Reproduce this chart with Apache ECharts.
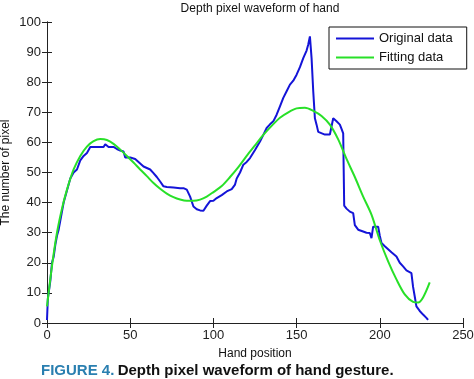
<!DOCTYPE html>
<html>
<head>
<meta charset="utf-8">
<script src="https://cdn.jsdelivr.net/npm/echarts@6/dist/echarts.min.js"></script>
<style>html,body{margin:0;padding:0;background:#fff;}#c{width:474px;height:379px;}</style>
</head>
<body>
<div id="c"></div>
<script>
const titleText = 'Depth pixel waveform of hand';
const xAxisName = 'Hand position';
const yAxisName = 'The number of pixel';
const seriesNames = ['Original data', 'Fitting data'];

const origX = [0,0.5,1,2,3,4,5,6,7,8,9,10,11,12,13,14,16,18,20,22,24,26,28,30,32,34,35,36,37,40,42,44,46,47,48,50,51,53,56,58,60,62,64,66,68,70,72,76,80,82,84,86,88,90,92,94,96,98,100,102,105,108,111,113,114,116,118,120,122,125,128,130,132,134,136,138,140,142,144,146,148,150,152,154,156,157,158,159,160,161,162,163,164,167,170,171,172,174,176,177,178,178.3,178.6,180,182,184,185,187,190,192,194,195,196,197,199,200,201,203,205,207,210,212,214,216,219,220,221,222,224,226,228,229];
const origY = [1,8,10,14,20,22,26,29,31,34,37,40,42,44,46,48,50,51,54,55.5,56.5,58.5,58.5,58.5,58.5,58.5,59.4,59.2,58.5,58.5,57.8,57.3,57,55,54.5,55,55.4,54.5,53,52,51.5,51,49.8,48.5,47,45.4,45.2,45,44.8,44.8,44.3,42,38.7,37.8,37.4,37.3,39,40.5,40.6,41.5,42.5,43.7,44.5,46,48,50,52.6,53.5,54.8,57.5,60.3,62.5,64.8,66,67,69.2,72,74.8,77,79.2,80.5,82.5,85,88,90.5,92.5,95.2,88,77,68,65.9,63.5,63,62.6,62.6,62.6,68,67,65.9,64.5,63,51,39,38,37,36.5,32.5,31,30.4,30,29.9,28.2,32,32.5,32,29,26.6,25.5,24.5,23.5,22.1,20,18.8,17.5,16.6,12,8.8,5.5,4,2.8,1.7,1];

const fitX = [0,3,6,9,12,16,20,24,28,32,36,40,44,48,52,56,60,64,68,72,76,80,84,88,92,96,100,105,110,115,120,125,130,135,140,145,150,155,160,165,170,175,180,185,190,195,200,205,210,215,220,223,226,230];
const fitY = [5.5,19,30,38,44.3,51,55.5,58.6,60.4,61.1,60.8,59.5,57.6,55.5,53.3,51,48.8,46.5,44.6,43,41.8,41,40.6,40.6,41,42,43.5,45.5,48.5,51.8,55.5,59,62.5,65.5,68.2,70,71.3,71.5,70.5,68.8,65.9,61,54.5,48.5,42,36,27.5,20.5,14.5,9.5,7,6.8,8.5,13.5];

const xTicks = [0,50,100,150,200,250];
const yTicks = [0,10,20,30,40,50,60,70,80,90,100];

const chart = echarts.init(document.getElementById('c'), null, {renderer:'canvas'});
const FONT = '"Liberation Sans", Arial, sans-serif';
const axisLine = {show:true, lineStyle:{color:'#222', width:1}};
const tick = {show:true, inside:true, length:5, lineStyle:{color:'#222'}};
chart.setOption({
  animation:false,
  backgroundColor:'#fff',
  textStyle:{fontFamily:FONT},
  title:{text:titleText, left:255, top:-2, textAlign:'center',
    textStyle:{fontSize:12, fontWeight:'normal', color:'#111', fontFamily:FONT}},
  legend:{
    orient:'vertical', left:329, top:27, padding:[5,14,5,7], itemGap:6,
    itemWidth:38, itemHeight:2, icon:'rect',
    borderColor:'#111', borderWidth:1, backgroundColor:'#fff',
    textStyle:{fontSize:13, color:'#111', fontFamily:FONT},
    data:seriesNames
  },
  grid:{left:47, right:11, top:22, bottom:56, containLabel:false, outerBoundsMode:'none'},
  xAxis:[
    {type:'value', min:xTicks[0], max:xTicks[xTicks.length-1], interval:50, position:'bottom',
     name:xAxisName, nameLocation:'middle', nameGap:25, nameMoveOverlap:false,
     nameTextStyle:{fontSize:12, color:'#111', fontFamily:FONT},
     axisLine:axisLine, axisTick:tick, splitLine:{show:false},
     axisLabel:{fontSize:13, color:'#222', margin:6, fontFamily:FONT}},
    {type:'value', min:xTicks[0], max:xTicks[xTicks.length-1], interval:50, position:'top',
     axisLine:axisLine, axisTick:tick, splitLine:{show:false}, axisLabel:{show:false}}
  ],
  yAxis:[
    {type:'value', min:yTicks[0], max:yTicks[yTicks.length-1], interval:10, position:'left',
     name:yAxisName, nameLocation:'middle', nameGap:35, nameMoveOverlap:false,
     nameTextStyle:{fontSize:12, color:'#111', fontFamily:FONT},
     axisLine:axisLine, axisTick:tick, splitLine:{show:false},
     axisLabel:{fontSize:13, color:'#222', margin:6, fontFamily:FONT}},
    {type:'value', min:yTicks[0], max:yTicks[yTicks.length-1], interval:10, position:'right',
     axisLine:axisLine, axisTick:tick, splitLine:{show:false}, axisLabel:{show:false}}
  ],
  series:[
    {name:seriesNames[0], type:'line', xAxisIndex:0, yAxisIndex:0, showSymbol:false, symbol:'none',
     lineStyle:{color:'#1414d8', width:2}, itemStyle:{color:'#1414d8'},
     data:origX.map((x,i)=>[x, origY[i]]), z:3},
    {name:seriesNames[1], type:'line', xAxisIndex:0, yAxisIndex:0, showSymbol:false, symbol:'none', smooth:0.3,
     lineStyle:{color:'#28e028', width:2}, itemStyle:{color:'#28e028'},
     data:fitX.map((x,i)=>[x, fitY[i]]), z:4}
  ],
  graphic:[
    {type:'text', left:41, top:363,
     style:{text:'{a|FIGURE 4.} {b|Depth pixel waveform of hand gesture.}',
       rich:{a:{fontSize:15, fontWeight:'bold', fill:'#2a7fb0', fontFamily:FONT},
             b:{fontSize:15, fontWeight:'bold', fill:'#111', fontFamily:FONT}}}}
  ]
});
</script>
</body>
</html>
